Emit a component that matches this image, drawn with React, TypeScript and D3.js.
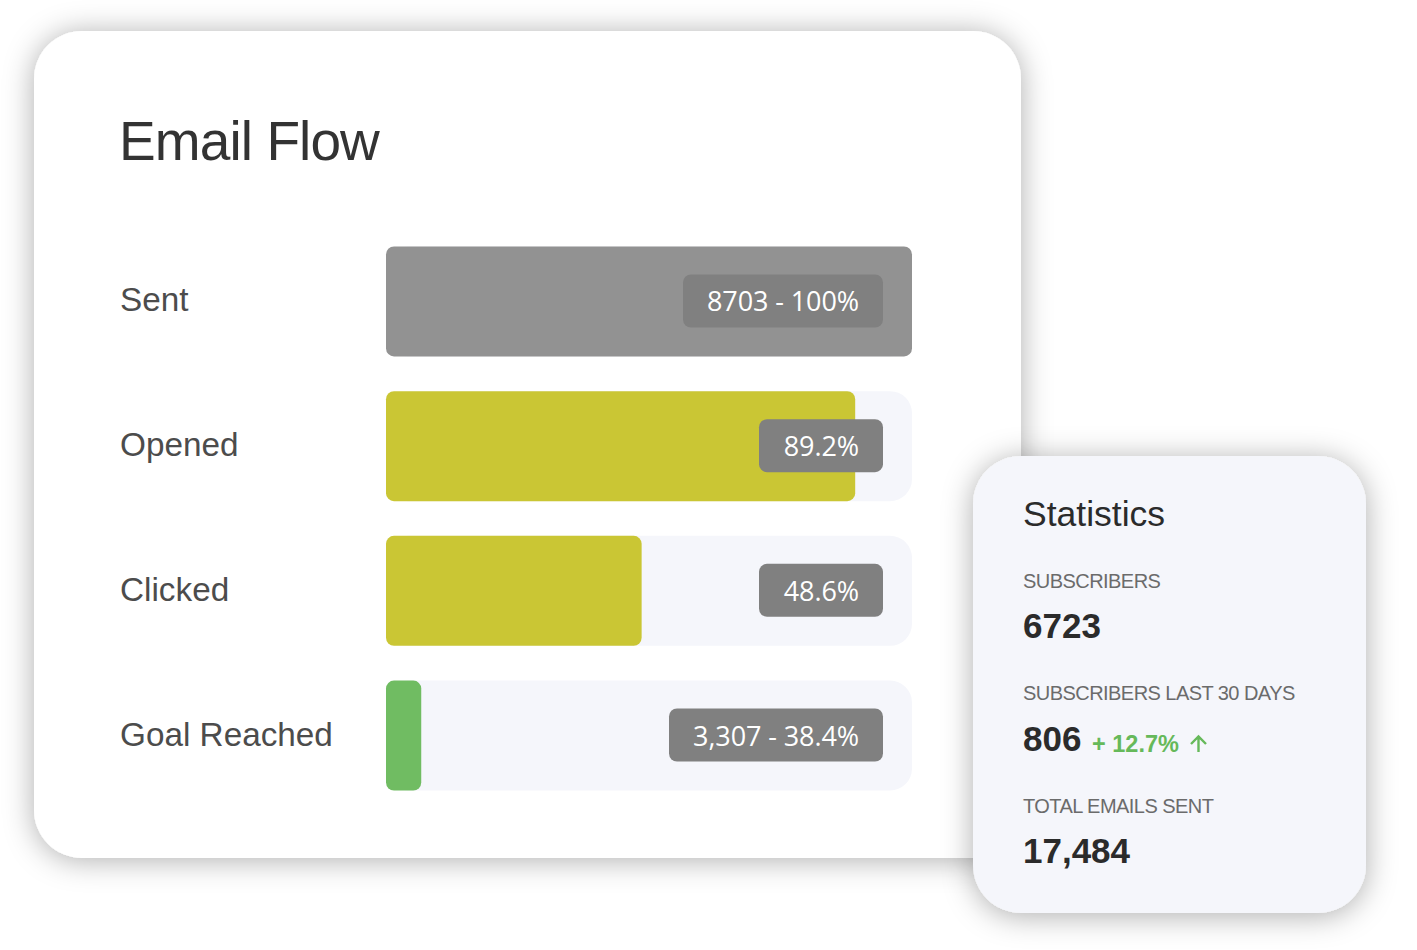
import React from "react";
import * as d3 from "d3";

const categories = ["Sent", "Opened", "Clicked", "Goal Reached"];
const barValues = [100, 89.2, 48.6, 6.7];
const badgeLabels = ["8703 - 100%", "89.2%", "48.6%", "3,307 - 38.4%"];
const badgeWidths = [200, 124, 124, 214];
const barColors = ["#929292", "#cac634", "#cac634", "#70bc62"];

const statLabels = ["SUBSCRIBERS", "SUBSCRIBERS LAST 30 DAYS", "TOTAL EMAILS SENT"];
const statValues = ["6723", "806", "17,484"];

const sans = "'Liberation Sans', Arial, sans-serif";
const open = "'Open Sans', sans-serif";

export default function App() {
  const x = d3.scaleLinear().domain([0, 100]).range([386, 912]);
  const y = d3.scaleBand<string>().domain(categories).range([246.5, 790.5]).paddingInner(0.24).paddingOuter(0);
  const statY = d3.scaleLinear().domain([0, 2]).range([587.5, 812.5]);

  return (
    <svg
      width={1417}
      height={950}
      viewBox="0 0 1417 950"
      style={{ position: "absolute", left: 0, top: 0, background: "#fff" }}
    >
      <defs>
        <filter id="cardShadow" x="-15%" y="-15%" width="130%" height="130%">
          <feDropShadow dx="0" dy="2" stdDeviation="15" floodColor="#000" floodOpacity="0.32" />
        </filter>
        <filter id="statShadow" x="-25%" y="-25%" width="150%" height="150%">
          <feDropShadow dx="0" dy="3" stdDeviation="15" floodColor="#000" floodOpacity="0.32" />
        </filter>
      </defs>

      <rect x={34} y={31} width={987} height={827} rx={48} fill="#fff" filter="url(#cardShadow)" />
      <text x={119} y={160} fontFamily={sans} fontSize={55} letterSpacing={-0.9} fill="#333">
        Email Flow
      </text>

      {categories.map((c, i) => {
        const top = y(c) as number;
        const h = y.bandwidth();
        const bw = badgeWidths[i];
        const mid = top + h / 2;
        return (
          <g key={c}>
            <text x={120} y={mid + 10} fontFamily={sans} fontSize={33.3} fill="#4c4c4c">
              {c}
            </text>
            <rect x={x(0)} y={top} width={x(100) - x(0)} height={h} rx={22} fill="#f5f6fb" />
            <rect x={x(0)} y={top} width={x(barValues[i]) - x(0)} height={h} rx={8} fill={barColors[i]} />
            <rect x={883 - bw} y={mid - 27} width={bw} height={53} rx={8} fill="#808080" />
            <text x={859} y={mid + 10} textAnchor="end" fontFamily={open} fontSize={27} fontWeight={500} letterSpacing={-0.1} fill="#fff">
              {badgeLabels[i]}
            </text>
          </g>
        );
      })}

      <rect x={973} y={456} width={393} height={457} rx={48} fill="#f5f6fb" filter="url(#statShadow)" />
      <text x={1023} y={526} fontFamily={sans} fontSize={35.5} fill="#2b2b2b">
        Statistics
      </text>
      {statLabels.map((label, i) => (
        <g key={label}>
          <text x={1023} y={statY(i)} fontFamily={sans} fontSize={20} letterSpacing={-0.55} fill="#6b6b6b">
            {label}
          </text>
          <text x={1023} y={statY(i) + 50.5} fontFamily={sans} fontSize={35} fontWeight={700} fill="#2b2b2b">
            {statValues[i]}
          </text>
        </g>
      ))}
      <text x={1092} y={752} fontFamily={sans} fontSize={23.5} fontWeight={700} fill="#66b95a">
        + 12.7%
      </text>
      <path d="M1198.500 752V736.500M1191 744L1198.500 736.500L1206 744" fill="none" stroke="#66b95a" strokeWidth={2.4} />
    </svg>
  );
}
